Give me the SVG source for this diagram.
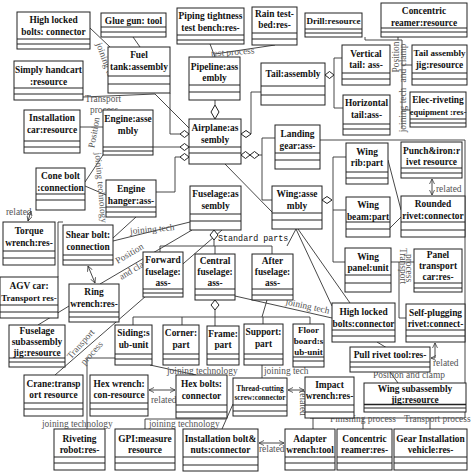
<svg xmlns="http://www.w3.org/2000/svg" width="474" height="474" viewBox="0 0 474 474">
<style>
.b rect{fill:#fff;stroke:#222;stroke-width:1}
.b line{stroke:#222;stroke-width:1}
.b text{font-family:"Liberation Serif","Times New Roman",serif;font-weight:bold;font-size:9.4px;text-anchor:middle;fill:#111}
.c{fill:none;stroke:#333;stroke-width:0.9}
.d{fill:#fff;stroke:#222;stroke-width:1}
.l{font-family:"Liberation Serif","Times New Roman",serif;font-size:9.4px;fill:#555}
.m{font-family:"Liberation Mono","Courier New",monospace;font-size:8.4px;fill:#111}
.ar{marker-start:url(#ah);marker-end:url(#ah)}
</style>
<defs>
<marker id="ah" viewBox="0 0 8 8" refX="7" refY="4" markerWidth="6" markerHeight="6" orient="auto-start-reverse" markerUnits="userSpaceOnUse"><path d="M0,0.5 L7,4 L0,7.5" fill="none" stroke="#333" stroke-width="1"/></marker>
</defs>
<rect width="474" height="474" fill="#fff"/>

<g id="connectors">
<polyline class="c" points="90,28 110,47"/>
<polyline class="c" points="133,37 140,47"/>
<polyline class="c" points="83,97 155,94 189,128"/>
<polyline class="c" points="170,93 170,134 180,134"/>
<polygon class="d" points="189,134 184.5,130.5 180,134 184.5,137.5"/>
<polyline class="c" points="210,44 215,57"/>
<polyline class="c" points="275,45 215,54"/>
<polyline class="c" points="215,100 215,105"/>
<polygon class="d" points="215,119 219,112 215,105 211,112"/>
<polyline class="c" points="261,92 251,92 251,134"/>
<polygon class="d" points="241,134 246,130.5 251,134 246,137.5"/>
<polyline class="c" points="153,147 180,147"/>
<polygon class="d" points="189,147 184.5,143.5 180,147 184.5,150.5"/>
<polyline class="c" points="156,192 175,192 175,157 180,157"/>
<polygon class="d" points="189,157 184.5,153.5 180,157 184.5,160.5"/>
<polyline class="c" points="80,127 103,127"/>
<polyline class="c" points="85,182 103,155"/>
<polyline class="c" points="85,186 106,195"/>
<polyline class="c ar" points="31,211 28,221"/>
<polyline class="c" points="113,238 136,217"/>
<polyline class="c" points="113,241 190,222"/>
<polyline class="c ar" points="88,266 95,283"/>
<polyline class="c" points="100,284 192,230"/>
<polyline class="c" points="55,375 222,230"/>
<polyline class="c" points="38,325 69,306"/>
<polyline class="c" points="58,277 58,222 63,222"/>
<polygon class="d" points="214,230 218,235 214,240 210,235"/>
<polyline class="c" points="214,240 214,246"/>
<polyline class="c" points="160,252 160,246 272,246 272,254"/>
<polyline class="c" points="215,246 215,254"/>
<polygon class="d" points="215,300 219,305 215,310 211,305"/>
<polyline class="c" points="215,310 215,326"/>
<polyline class="c" points="133,325 133,317 310,317 310,324"/>
<polyline class="c" points="182,317 182,325"/>
<polyline class="c" points="263,317 263,324"/>
<polyline class="c" points="235,296 332,318"/>
<polyline class="c" points="267,300 262,317"/>
<polyline class="c" points="296,229 287,246"/>
<polyline class="c" points="296,229 332,306"/>
<polyline class="c" points="298,229 350,303"/>
<polyline class="c" points="225,164 272,212"/>
<polygon class="d" points="241,155 245.5,151.5 250,155 245.5,158.5"/>
<polygon class="d" points="250,155 254.5,151.5 259,155 254.5,158.5"/>
<polyline class="c" points="259,155 262,155"/>
<polyline class="c" points="275,138 262,138 262,200 272,200"/>
<polyline class="c" points="320,140 465,140 465,418 310,418"/>
<polyline class="c" points="363,418 363,429"/>
<polyline class="c" points="430,418 430,429"/>
<polyline class="c" points="313,418 313,429"/>
<polygon class="d" points="322,200 327,196.5 332,200 327,203.5"/>
<polyline class="c" points="346,157 333,157 333,262 345,262"/>
<polyline class="c" points="333,210 346,210"/>
<polyline class="c" points="388,160 401,210"/>
<polyline class="c" points="390,228 401,217"/>
<polyline class="c ar" points="432,179 432,195"/>
<polyline class="c" points="391,262 414,262"/>
<polyline class="c" points="399,262 399,318 406,318"/>
<polyline class="c" points="377,342 387,348"/>
<polyline class="c ar" points="435,343 435,358 431,358"/>
<polyline class="c" points="390,372 398,383"/>
<polygon class="d" points="325,75 329.5,71.5 334,75 329.5,78.5"/>
<polyline class="c" points="342,58 334,58 334,108 343,108"/>
<polyline class="c" points="365,37 365,40 402,40 402,128"/>
<polyline class="c" points="398,37 398,40"/>
<polyline class="c" points="402,65 412,65"/>
<polyline class="c" points="402,110 410,110"/>
<polyline class="c" points="150,365 196,375"/>
<polyline class="c" points="87,429 87,358 115,358"/>
<polyline class="c" points="145,429 145,419 226,419"/>
<polyline class="c" points="233,404 222,429"/>
<polyline class="c ar" points="149,390 175,390"/>
<polyline class="c ar" points="288,390 304,390"/>
<polyline class="c ar" points="259,443 284,443"/>
<polyline class="c" points="262,365 262,378"/>
</g>

<g id="labels">
<text class="l" transform="translate(96,44) rotate(70)">joining tech</text>
<text class="l" x="85" y="102">Transport</text>
<text class="l" x="90" y="113">process</text>
<text class="l" x="211" y="55" transform="rotate(-4 233 52)">test process</text>
<text class="l" text-anchor="middle" transform="translate(97,133) rotate(-80)">Position</text>
<text class="l" text-anchor="middle" transform="translate(98,188) rotate(85)">joining technology</text>
<text class="l" x="6" y="215">related</text>
<text class="l" x="130" y="232" transform="rotate(-5 154 229)">joining tech</text>
<text class="l" text-anchor="middle" transform="translate(131,256) rotate(-31)">Position</text>
<text class="l" text-anchor="middle" transform="translate(138,270) rotate(-31)">and clamp</text>
<text class="l" text-anchor="middle" transform="translate(83,346) rotate(-48)">Transport</text>
<text class="l" text-anchor="middle" transform="translate(94,355) rotate(-48)">process</text>
<text class="m" x="218" y="241">Standard parts</text>
<text class="l" text-anchor="middle" transform="translate(307,309) rotate(12)">joining tech</text>
<text class="l" text-anchor="middle" transform="translate(400,266) rotate(90)">Transport</text>
<text class="l" text-anchor="middle" transform="translate(406,268) rotate(90)">process</text>
<text class="l" text-anchor="middle" transform="translate(399,57) rotate(-90)">Position</text>
<text class="l" text-anchor="middle" transform="translate(406,63) rotate(-90)">and clamp</text>
<text class="l" text-anchor="middle" transform="translate(406,110) rotate(-90)">joining tech</text>
<text class="l" x="436" y="192">related</text>
<text class="l" x="433" y="366">related</text>
<text class="l" x="373" y="378">Position and clamp</text>
<text class="l" x="330" y="422">Finishing process</text>
<text class="l" x="404" y="422">Transport process</text>
<text class="l" x="167" y="374">joining technology</text>
<text class="l" x="42" y="427">joining technology</text>
<text class="l" x="149" y="427">joining technology</text>
<text class="l" x="264" y="374">joining tech</text>
<text class="l" x="151" y="403">related</text>
<text class="l" text-anchor="middle" transform="translate(300,403) rotate(90)">related</text>
<text class="l" x="259" y="452">related</text>
</g>

<g id="n1" class="b"><rect x="17" y="12" width="73" height="37"/><line x1="17" y1="39" x2="90" y2="39"/><line x1="17" y1="44" x2="90" y2="44"/><text x="53.5" y="22.5">High locked</text><text x="53.5" y="35">bolts:  connector</text></g>
<g id="n2" class="b"><rect x="101" y="13" width="65" height="24"/><line x1="101" y1="27" x2="166" y2="27"/><line x1="101" y1="32" x2="166" y2="32"/><text x="133.5" y="24">Glue gun: tool</text></g>
<g id="n3" class="b"><rect x="177" y="8" width="67" height="36"/><line x1="177" y1="35" x2="244" y2="35"/><line x1="177" y1="40" x2="244" y2="40"/><text x="210.5" y="19">Piping tightness</text><text x="210.5" y="31">test bench:res-</text></g>
<g id="n4" class="b"><rect x="252" y="7" width="45" height="38"/><line x1="252" y1="33" x2="297" y2="33"/><line x1="252" y1="39" x2="297" y2="39"/><text x="274.5" y="17">Rain test-</text><text x="274.5" y="28">bed:res-</text></g>
<g id="n5" class="b"><rect x="305" y="13" width="57" height="24"/><line x1="305" y1="29" x2="362" y2="29"/><line x1="305" y1="33" x2="362" y2="33"/><text x="333.5" y="24" style="font-size:9.1px">Drill:resource</text></g>
<g id="n6" class="b"><rect x="381" y="3" width="86" height="34"/><line x1="381" y1="28" x2="467" y2="28"/><line x1="381" y1="32" x2="467" y2="32"/><text x="424" y="14">Concentric</text><text x="424" y="26">reamer:resource</text></g>
<g id="n7" class="b"><rect x="108" y="47" width="62" height="46"/><line x1="108" y1="76" x2="170" y2="76"/><line x1="108" y1="84" x2="170" y2="84"/><text x="139" y="58">Fuel</text><text x="139" y="70">tank:assembly</text></g>
<g id="n8" class="b"><rect x="189" y="57" width="51" height="43"/><line x1="189" y1="85" x2="240" y2="85"/><line x1="189" y1="92" x2="240" y2="92"/><text x="214.5" y="70">Pipeline:ass</text><text x="214.5" y="81">embly</text></g>
<g id="n9" class="b"><rect x="261" y="63" width="64" height="42"/><line x1="261" y1="86" x2="325" y2="86"/><line x1="261" y1="95" x2="325" y2="95"/><text x="293" y="77">Tail:assembly</text></g>
<g id="n10" class="b"><rect x="342" y="45" width="48" height="40"/><line x1="342" y1="73" x2="390" y2="73"/><line x1="342" y1="79" x2="390" y2="79"/><text x="366" y="57">Vertical</text><text x="366" y="68">tail: ass-</text></g>
<g id="n11" class="b"><rect x="412" y="45" width="55" height="40"/><line x1="412" y1="73" x2="467" y2="73"/><line x1="412" y1="79" x2="467" y2="79"/><text x="439.5" y="56" style="font-size:9px">Tail assembly</text><text x="439.5" y="68">jig:resource</text></g>
<g id="n12" class="b"><rect x="343" y="95" width="47" height="40"/><line x1="343" y1="124" x2="390" y2="124"/><line x1="343" y1="129" x2="390" y2="129"/><text x="366.5" y="106">Horizontal</text><text x="366.5" y="118">tail:ass-</text></g>
<g id="n13" class="b"><rect x="410" y="92" width="56" height="35"/><line x1="410" y1="119" x2="466" y2="119"/><line x1="410" y1="123" x2="466" y2="123"/><text x="438" y="103">Elec-riveting</text><text x="438" y="115" style="font-size:8.4px">equipment :res-</text></g>
<g id="n14" class="b"><rect x="14" y="61" width="69" height="39"/><line x1="14" y1="88" x2="83" y2="88"/><line x1="14" y1="94" x2="83" y2="94"/><text x="48.5" y="73">Simply handcart</text><text x="48.5" y="85">:resource</text></g>
<g id="n15" class="b"><rect x="24" y="110" width="56" height="43"/><line x1="24" y1="141" x2="80" y2="141"/><line x1="24" y1="147" x2="80" y2="147"/><text x="52" y="121">Installation</text><text x="52" y="133">car:resource</text></g>
<g id="n16" class="b"><rect x="103" y="110" width="50" height="45"/><line x1="103" y1="147" x2="153" y2="147"/><line x1="103" y1="151" x2="153" y2="151"/><text x="128" y="122">Engine:asse</text><text x="128" y="134">mbly</text></g>
<g id="n17" class="b"><rect x="189" y="119" width="52" height="45"/><line x1="189" y1="147" x2="241" y2="147"/><line x1="189" y1="153" x2="241" y2="153"/><text x="215" y="131">Airplane:as</text><text x="215" y="143">sembly</text></g>
<g id="n18" class="b"><rect x="275" y="125" width="45" height="44"/><line x1="275" y1="153" x2="320" y2="153"/><line x1="275" y1="160" x2="320" y2="160"/><text x="297.5" y="137">Landing</text><text x="297.5" y="149">gear:ass-</text></g>
<g id="n19" class="b"><rect x="190" y="186" width="51" height="44"/><line x1="190" y1="214" x2="241" y2="214"/><line x1="190" y1="221" x2="241" y2="221"/><text x="215.5" y="197">Fuselage:as</text><text x="215.5" y="209">sembly</text></g>
<g id="n20" class="b"><rect x="272" y="186" width="50" height="43"/><line x1="272" y1="213" x2="322" y2="213"/><line x1="272" y1="220" x2="322" y2="220"/><text x="297" y="197">Wing:asse</text><text x="297" y="209">mbly</text></g>
<g id="n21" class="b"><rect x="106" y="180" width="50" height="37"/><line x1="106" y1="207" x2="156" y2="207"/><line x1="106" y1="212" x2="156" y2="212"/><text x="131" y="192">Engine</text><text x="131" y="204">hanger:ass-</text></g>
<g id="n22" class="b"><rect x="36" y="168" width="49" height="42"/><line x1="36" y1="194" x2="85" y2="194"/><line x1="36" y1="200" x2="85" y2="200"/><text x="60.5" y="179">Cone bolt</text><text x="60.5" y="191">:connection</text></g>
<g id="n23" class="b"><rect x="3" y="222" width="52" height="43"/><line x1="3" y1="251" x2="55" y2="251"/><line x1="3" y1="258" x2="55" y2="258"/><text x="29" y="234">Torque</text><text x="29" y="246">wrench:res-</text></g>
<g id="n24" class="b"><rect x="63" y="225" width="50" height="40"/><line x1="63" y1="255" x2="113" y2="255"/><line x1="63" y1="260" x2="113" y2="260"/><text x="88" y="238">Shear bolt:</text><text x="88" y="250">connection</text></g>
<g id="n25" class="b"><rect x="401" y="196" width="64" height="41"/><line x1="401" y1="222" x2="465" y2="222"/><line x1="401" y1="230" x2="465" y2="230"/><text x="433" y="207">Rounded</text><text x="433" y="219">rivet:connector</text></g>
<g id="n26" class="b"><rect x="401" y="142" width="61" height="36"/><line x1="401" y1="168" x2="462" y2="168"/><line x1="401" y1="173" x2="462" y2="173"/><text x="431.5" y="154">Punch&amp;iron:r</text><text x="431.5" y="165">ivet resource</text></g>
<g id="n27" class="b"><rect x="346" y="143" width="42" height="41"/><line x1="346" y1="172" x2="388" y2="172"/><line x1="346" y1="178" x2="388" y2="178"/><text x="367" y="155">Wing</text><text x="367" y="166">rib:part</text></g>
<g id="n28" class="b"><rect x="346" y="197" width="44" height="40"/><line x1="346" y1="222" x2="390" y2="222"/><line x1="346" y1="229" x2="390" y2="229"/><text x="368" y="208">Wing</text><text x="368" y="220">beam:part</text></g>
<g id="n29" class="b"><rect x="345" y="248" width="46" height="44"/><line x1="345" y1="275" x2="391" y2="275"/><line x1="345" y1="283" x2="391" y2="283"/><text x="368" y="260">Wing</text><text x="368" y="271">panel:unit</text></g>
<g id="n30" class="b"><rect x="414" y="249" width="48" height="43"/><line x1="414" y1="283" x2="462" y2="283"/><line x1="414" y1="288" x2="462" y2="288"/><text x="438" y="258">Panel</text><text x="438" y="269">transport</text><text x="438" y="280">car:res-</text></g>
<g id="n31" class="b"><rect x="332" y="303" width="63" height="39"/><line x1="332" y1="330" x2="395" y2="330"/><line x1="332" y1="336" x2="395" y2="336"/><text x="363.5" y="315">High locked</text><text x="363.5" y="327">bolts:connector</text></g>
<g id="n32" class="b"><rect x="406" y="304" width="59" height="38"/><line x1="406" y1="330" x2="465" y2="330"/><line x1="406" y1="336" x2="465" y2="336"/><text x="435.5" y="316">Self-plugging</text><text x="435.5" y="327">rivet:connect-</text></g>
<g id="n33" class="b"><rect x="350" y="347" width="80" height="25"/><line x1="350" y1="362" x2="430" y2="362"/><line x1="350" y1="367" x2="430" y2="367"/><text x="390" y="358">Pull rivet tool:res-</text></g>
<g id="n34" class="b"><rect x="364" y="383" width="102" height="29"/><line x1="364" y1="404.5" x2="466" y2="404.5" style="stroke-width:1.6"/><line x1="364" y1="408" x2="466" y2="408"/><text x="415" y="392">Wing subassembly</text><text x="415" y="403">jig:resource</text></g>
<g id="n35" class="b"><rect x="143" y="252" width="40" height="45"/><line x1="143" y1="289" x2="183" y2="289"/><line x1="143" y1="293" x2="183" y2="293"/><text x="163" y="263">Forward</text><text x="163" y="275">fuselage:</text><text x="163" y="286">ass-</text></g>
<g id="n36" class="b"><rect x="195" y="254" width="40" height="46"/><line x1="195" y1="289" x2="235" y2="289"/><line x1="195" y1="295" x2="235" y2="295"/><text x="215" y="264">Central</text><text x="215" y="275">fuselage:</text><text x="215" y="286">ass-</text></g>
<g id="n37" class="b"><rect x="252" y="254" width="41" height="46"/><line x1="252" y1="289" x2="293" y2="289"/><line x1="252" y1="295" x2="293" y2="295"/><text x="272.5" y="264">After</text><text x="272.5" y="275">fuselage:</text><text x="272.5" y="286">ass-</text></g>
<g id="n38" class="b"><rect x="69" y="284" width="50" height="38"/><line x1="69" y1="312" x2="119" y2="312"/><line x1="69" y1="317" x2="119" y2="317"/><text x="94" y="295">Ring</text><text x="94" y="307">wrench:res-</text></g>
<g id="n39" class="b"><rect x="0" y="277" width="58" height="41"/><line x1="0" y1="305" x2="58" y2="305"/><line x1="0" y1="312" x2="58" y2="312"/><text x="29" y="289">AGV car:</text><text x="29" y="301" style="font-size:9px">Transport res-</text></g>
<g id="n40" class="b"><rect x="9" y="325" width="56" height="42"/><line x1="9" y1="358" x2="65" y2="358"/><line x1="9" y1="362" x2="65" y2="362"/><text x="37" y="334">Fuselage</text><text x="37" y="345">subassembly</text><text x="37" y="356">jig:resource</text></g>
<g id="n41" class="b"><rect x="115" y="325" width="37" height="40"/><line x1="115" y1="354" x2="152" y2="354"/><line x1="115" y1="359" x2="152" y2="359"/><text x="133.5" y="336">Siding:s</text><text x="133.5" y="348">ub-unit</text></g>
<g id="n42" class="b"><rect x="163" y="325" width="36" height="40"/><line x1="163" y1="354" x2="199" y2="354"/><line x1="163" y1="359" x2="199" y2="359"/><text x="181" y="336">Corner:</text><text x="181" y="348">part</text></g>
<g id="n43" class="b"><rect x="207" y="326" width="32" height="39"/><line x1="207" y1="354" x2="239" y2="354"/><line x1="207" y1="359" x2="239" y2="359"/><text x="223" y="337">Frame:</text><text x="223" y="348">part</text></g>
<g id="n44" class="b"><rect x="244" y="324" width="39" height="41"/><line x1="244" y1="354" x2="283" y2="354"/><line x1="244" y1="359" x2="283" y2="359"/><text x="263.5" y="335">Support:</text><text x="263.5" y="347">part</text></g>
<g id="n45" class="b"><rect x="293" y="324" width="31" height="43"/><line x1="293" y1="357" x2="324" y2="357"/><line x1="293" y1="361" x2="324" y2="361"/><text x="308.5" y="333" style="font-size:9px">Floor</text><text x="308.5" y="344" style="font-size:9px">board:s</text><text x="308.5" y="355" style="font-size:9px">ub-unit</text></g>
<g id="n46" class="b"><rect x="24" y="375" width="59" height="41"/><line x1="24" y1="403" x2="83" y2="403"/><line x1="24" y1="409" x2="83" y2="409"/><text x="53.5" y="387">Crane:transp</text><text x="53.5" y="398">ort resource</text></g>
<g id="n47" class="b"><rect x="90" y="375" width="58" height="41"/><line x1="90" y1="403" x2="148" y2="403"/><line x1="90" y1="409" x2="148" y2="409"/><text x="119" y="387">Hex wrench:</text><text x="119" y="398">con-resource</text></g>
<g id="n48" class="b"><rect x="176" y="375" width="51" height="43"/><line x1="176" y1="405" x2="227" y2="405"/><line x1="176" y1="412" x2="227" y2="412"/><text x="201.5" y="387">Hex bolts:</text><text x="201.5" y="399">connector</text></g>
<g id="n49" class="b"><rect x="233" y="378" width="54" height="38"/><line x1="233" y1="405" x2="287" y2="405"/><line x1="233" y1="411" x2="287" y2="411"/><text x="260" y="391" style="font-size:7.3px">Thread-cutting</text><text x="260" y="400" style="font-size:7.3px">screw:connector</text></g>
<g id="n50" class="b"><rect x="305" y="377" width="49" height="41"/><line x1="305" y1="405" x2="354" y2="405"/><line x1="305" y1="412" x2="354" y2="412"/><text x="329.5" y="388">Impact</text><text x="329.5" y="399">wrench:res-</text></g>
<g id="n51" class="b"><rect x="54" y="429" width="51" height="41"/><line x1="54" y1="457" x2="105" y2="457"/><line x1="54" y1="463" x2="105" y2="463"/><text x="79.5" y="442">Riveting</text><text x="79.5" y="453">robot:res-</text></g>
<g id="n52" class="b"><rect x="115" y="429" width="60" height="41"/><line x1="115" y1="457" x2="175" y2="457"/><line x1="115" y1="463" x2="175" y2="463"/><text x="145" y="442">GPI:measure</text><text x="145" y="453">resource</text></g>
<g id="n53" class="b"><rect x="183" y="429" width="75" height="42"/><line x1="183" y1="457" x2="258" y2="457"/><line x1="183" y1="465" x2="258" y2="465"/><text x="220.5" y="442">Installation bolt&amp;</text><text x="220.5" y="453">nuts:connector</text></g>
<g id="n54" class="b"><rect x="285" y="429" width="50" height="41"/><line x1="285" y1="457" x2="335" y2="457"/><line x1="285" y1="463" x2="335" y2="463"/><text x="310" y="442">Adapter</text><text x="310" y="453">wrench:tool</text></g>
<g id="n55" class="b"><rect x="337" y="429" width="55" height="41"/><line x1="337" y1="457" x2="392" y2="457"/><line x1="337" y1="463" x2="392" y2="463"/><text x="364.5" y="442">Concentric</text><text x="364.5" y="453">reamer:res-</text></g>
<g id="n56" class="b"><rect x="394" y="429" width="73" height="41"/><line x1="394" y1="457" x2="467" y2="457"/><line x1="394" y1="463" x2="467" y2="463"/><text x="430.5" y="442">Gear Installation</text><text x="430.5" y="453">vehicle:res-</text></g>
</svg>
